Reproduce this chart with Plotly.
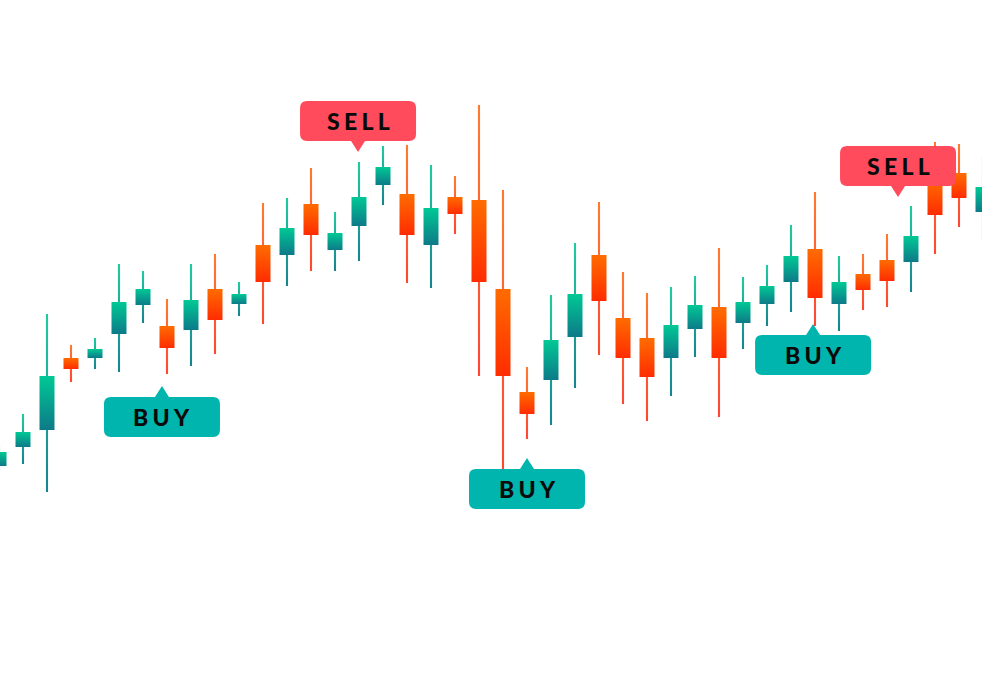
import plotly.graph_objects as go

# Candle data (arbitrary price units)
opens  = [214, 233, 250, 322, 322, 346, 375, 354, 350, 391, 376, 435, 425, 476, 430,
          454, 495, 486, 435, 483, 480, 391, 288, 300, 343, 425, 362, 342, 322, 351,
          373, 357, 376, 398, 431, 376, 406, 420, 418, 500, 507, 468]
highs  = [234, 266, 366, 335, 342, 416, 409, 381, 416, 426, 398, 477, 482, 512, 468,
          518, 534, 535, 515, 504, 575, 490, 313, 385, 437, 478, 408, 387, 393, 404,
          432, 403, 415, 455, 488, 424, 426, 446, 474, 538, 536, 523]
lows   = [210, 216, 188, 298, 311, 308, 357, 306, 314, 326, 364, 356, 394, 409, 409,
          419, 475, 397, 392, 446, 304, 210, 241, 255, 292, 325, 276, 259, 284, 323,
          263, 331, 354, 368, 354, 349, 370, 373, 388, 426, 453, 439]
closes = [228, 248, 304, 311, 331, 378, 391, 332, 380, 360, 386, 398, 452, 445, 447,
          483, 513, 445, 472, 466, 398, 304, 266, 340, 386, 379, 322, 303, 355, 375,
          322, 378, 394, 424, 382, 398, 390, 399, 444, 465, 482, 493]

signal_text  = ["BUY", "SELL", "BUY", "BUY", "SELL"]
signal_x     = [6.79, 14.96, 22.0, 33.92, 37.46]
signal_price = [294, 528, 222, 356, 483]

UP_BODY = [[0, "#0D7A88"], [1, "#00C995"]]
DN_BODY = [[0, "#FF2C00"], [1, "#FF6C00"]]
UP_WICK = [[0, "#17838F"], [1, "#1FCBA0"]]
DN_WICK = [[0, "#FF4630"], [1, "#FF7A30"]]

PX = 24.0  # pixels per candle step
fig = go.Figure()

def rect(x, lo, hi, half, scale):
    return go.Scatter(
        x=[x - half, x + half, x + half, x - half, x - half],
        y=[lo, lo, hi, hi, lo],
        fill="toself", mode="lines", line=dict(width=0),
        fillgradient=dict(type="vertical", colorscale=scale),
        hoverinfo="skip", showlegend=False)

for i, (o, h, l, c) in enumerate(zip(opens, highs, lows, closes)):
    up = c >= o
    fig.add_trace(rect(i, l, h, 1.05 / PX, UP_WICK if up else DN_WICK))
for i, (o, h, l, c) in enumerate(zip(opens, highs, lows, closes)):
    up = c >= o
    fig.add_trace(rect(i, min(o, c), max(o, c), 7.5 / PX, UP_BODY if up else DN_BODY))

shapes = []
annotations = []
W, H, P, PW, R = 58, 40, 11, 7, 7
for t, xs, ys in zip(signal_text, signal_x, signal_price):
    s = -1 if t == "BUY" else 1   # BUY: box below tip; SELL: box above tip
    a = s * P
    b = s * (P + H)
    path = (f"M 0,0 L {PW},{a} L {W-R},{a} Q {W},{a} {W},{a + s*R} "
            f"L {W},{b - s*R} Q {W},{b} {W-R},{b} L {-W+R},{b} "
            f"Q {-W},{b} {-W},{b - s*R} L {-W},{a + s*R} Q {-W},{a} {-W+R},{a} "
            f"L {-PW},{a} Z")
    color = "#00B5AD" if t == "BUY" else "#FF4B5C"
    shapes.append(dict(type="path", xref="x", yref="y", xsizemode="pixel",
                       ysizemode="pixel", xanchor=xs, yanchor=ys, path=path,
                       fillcolor=color, line=dict(width=0), layer="above"))
    annotations.append(dict(x=xs, y=ys, xref="x", yref="y", showarrow=False,
                            text="\u2009\u200a".join(t), yshift=s * (P + H / 2),
                            font=dict(family="Lato", size=23, color="#0A0A0A",
                                      weight=900),
                            xanchor="center", yanchor="middle"))

fig.update_layout(
    width=982, height=680, margin=dict(l=0, r=0, t=0, b=0),
    paper_bgcolor="white", plot_bgcolor="white",
    xaxis=dict(range=[1 / PX, 983 / PX], visible=False, fixedrange=True),
    yaxis=dict(range=[0, 680], visible=False, fixedrange=True),
    shapes=shapes, annotations=annotations, showlegend=False)

fig.write_html("out.html", config={"displayModeBar": False},
               post_script="document.body.style.margin='0';")
